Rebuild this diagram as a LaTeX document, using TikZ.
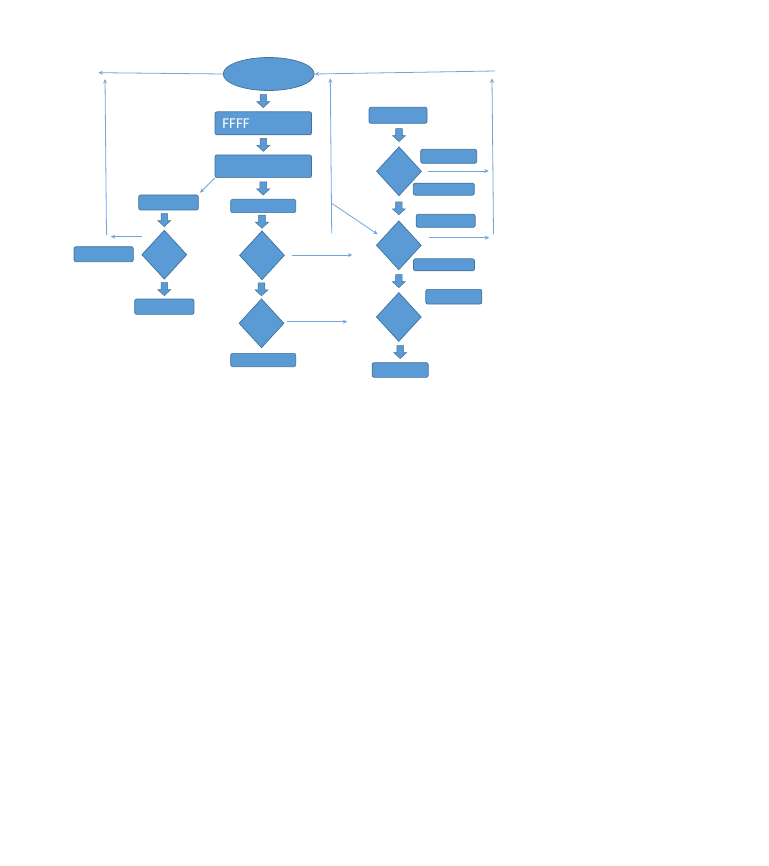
\documentclass[tikz,border=0pt]{standalone}
\usepackage{fontspec}
\setmainfont{Carlito}
\usetikzlibrary{calc,arrows.meta,shapes.geometric}

\definecolor{boxblue}{HTML}{5B9BD5}
\definecolor{boxedge}{HTML}{41719C}
\definecolor{linkblue}{HTML}{6FA6DC}

\tikzset{
  box/.style={draw=boxedge,fill=boxblue,line width=0.7pt,rounded corners=2pt,inner sep=0pt},
  dec/.style={diamond,draw=boxedge,fill=boxblue,line width=0.7pt,inner sep=0pt,
    minimum width=45pt,minimum height=49pt},
  fat/.style={draw=boxedge,fill=boxblue,line width=0.5pt},
  link/.style={draw=linkblue,line width=0.8pt,-{Stealth[length=4.5pt,width=4pt]}}
}

% fat block arrow between two nodes, placed under the target
\newcommand{\fatdown}[2]{%
  \path ($(#1.south)!0.5!(#2.north)$) coordinate (mid);
  \path (mid -| #2.north) coordinate (mid);
  \draw[fat] ($(mid)+(-3.3,-6.5)$) -- ++(6.6,0) -- ++(0,7) -- ++(3.2,0)
    -- ++(-6.5,6) -- ++(-6.5,-6) -- ++(3.2,0) -- cycle;}

\begin{document}
\begin{tikzpicture}[x=1pt,y=-1pt]
\useasboundingbox (0,0) rectangle (768,866);

\node[ellipse,draw=boxedge,fill=boxblue,line width=0.7pt,
  minimum width=91pt,minimum height=33pt] (start) at (268.7,74) {};
\node[box,minimum width=96.5pt,minimum height=23pt,text width=82pt,inner xsep=7pt,
  align=left,text=white,font=\fontsize{15}{15}\selectfont] (ffff) at (263.3,123.3) {FFFF};
\node[box,minimum width=96.5pt,minimum height=22.7pt] (prep) at (263.3,166.3) {};

\node[box,minimum width=59.6pt,minimum height=15pt] (lbox) at (168.5,202.5) {};
\node[dec] (ldec) at (164.3,254.7) {};
\node[box,minimum width=59.3pt,minimum height=15pt] (lout) at (103.7,254.2) {};
\node[box,minimum width=59.3pt,minimum height=15.3pt] (lend) at (164.3,306.7) {};

\node[box,minimum width=65pt,minimum height=13.3pt] (mbox) at (263.2,206) {};
\node[dec] (mdeca) at (262,255.3) {};
\node[dec] (mdecb) at (261.5,323.3) {};
\node[box,minimum width=65pt,minimum height=13.3pt] (mend) at (263.2,360) {};

\node[box,minimum width=58pt,minimum height=16pt] (rtop) at (398,115.3) {};
\node[dec] (rdeca) at (399,171.3) {};
\node[dec] (rdecb) at (398.8,245.3) {};
\node[dec] (rdecc) at (398.8,317) {};
\node[box,minimum width=56pt,minimum height=14pt] (rnotea) at (448.7,156.3) {};
\node[box,minimum width=61pt,minimum height=12pt] (rnoteb) at (443.8,189.2) {};
\node[box,minimum width=59pt,minimum height=13pt] (rnotec) at (445.7,220.8) {};
\node[box,minimum width=61pt,minimum height=12pt] (rnoted) at (444,264.8) {};
\node[box,minimum width=56pt,minimum height=14.7pt] (rnotee) at (453.8,296.7) {};
\node[box,minimum width=56pt,minimum height=14.7pt] (rend) at (400.2,370) {};

\fatdown{start}{ffff}
\fatdown{ffff}{prep}
\fatdown{prep}{mbox}
\fatdown{lbox}{ldec}
\fatdown{ldec}{lend}
\fatdown{mbox}{mdeca}
\fatdown{mdeca}{mdecb}
\fatdown{rtop}{rdeca}
\fatdown{rdeca}{rdecb}
\fatdown{rdecb}{rdecc}
\fatdown{rdecc}{rend}

\coordinate (ltip) at (98.3,72.7);
\coordinate (lfoot) at (106.5,235);
\coordinate (lhead) at (105,79);
\coordinate (lbranch) at (141.7,236.7);
\coordinate (lbranchtip) at (110.7,236.7);
\coordinate (lboxtip) at (200,192.7);
\coordinate (mouta) at (292,255);
\coordinate (moutatip) at (352.3,255);
\coordinate (moutb) at (287,321.7);
\coordinate (moutbtip) at (347.3,321.7);
\coordinate (cfoot) at (331.7,233.3);
\coordinate (chead) at (330.3,78.3);
\coordinate (cbranch) at (331.7,203.3);
\coordinate (cbranchtip) at (377.7,234.3);
\coordinate (rtopline) at (495,71);
\coordinate (rfoot) at (493.5,234.3);
\coordinate (rhead) at (492,78.3);
\coordinate (routa) at (428.3,171);
\coordinate (routatip) at (488.7,171);
\coordinate (routb) at (429.3,237.7);
\coordinate (routbtip) at (489.3,237.7);

\draw[link] (start.west) -- (ltip);
\draw[link] (lfoot) -- (lhead);
\draw[link] (lbranch) -- (lbranchtip);
\draw[link] (prep.south west) -- (lboxtip);
\draw[link] (mouta) -- (moutatip);
\draw[link] (moutb) -- (moutbtip);
\draw[link] (cfoot) -- (chead);
\draw[link] (cbranch) -- (cbranchtip);
\draw[link] (rtopline) -- (start.east);
\draw[link] (rfoot) -- (rhead);
\draw[link] (routa) -- (routatip);
\draw[link] (routb) -- (routbtip);

\end{tikzpicture}
\end{document}
